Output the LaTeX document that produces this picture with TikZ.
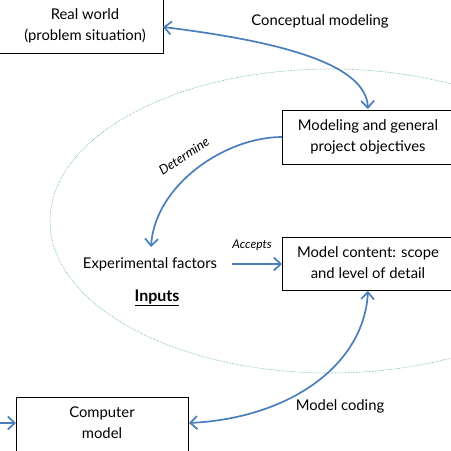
\documentclass[tikz,border=0pt]{standalone}
\usepackage{fontspec}
\setmainfont{Lato}
\usetikzlibrary{arrows.meta}
\definecolor{arrowblue}{RGB}{74,126,187}
\definecolor{ellgreen}{RGB}{80,175,140}
\tikzset{
  box/.style={draw=black, line width=0.8pt, fill=white, align=center, inner sep=0pt},
  lbl/.style={align=center, font=\fontsize{14.8}{21}\selectfont},
  small/.style={font=\fontsize{12}{14}\selectfont\itshape},
  conn/.style={draw=arrowblue, line width=1.7pt, >={Straight Barb[length=7pt,width=13pt,line width=1.7pt]}},
}
\begin{document}
\begin{tikzpicture}[x=1pt,y=-1pt]
\useasboundingbox (0,0) rectangle (451,451);
% ellipse
\draw[ellgreen, line width=0.6pt, densely dotted] (330,221) ellipse [x radius=280, y radius=152];
% boxes
\node[box, minimum width=190pt, minimum height=70pt] (rw) at (68,18) {};
\node[lbl] (rwt) at (85,26) {Real world\\(problem situation)};
\node[box, minimum width=200pt, minimum height=54pt] (mo) at (382,137) {};
\node[lbl] (mot) at (368,137) {Modeling and general\\project objectives};
\node[box, minimum width=200pt, minimum height=53pt] (mc) at (382,263.5) {};
\node[lbl] (mct) at (368,263) {Model content: scope\\and level of detail};
\node[box, minimum width=172pt, minimum height=80pt] (cm) at (102,437) {};
\node[lbl] (cmt) at (102,423) {Computer\\model};
% free labels
\node[lbl] (ef) at (150,264) {Experimental factors};
\node[lbl, font=\fontsize{16}{18}\selectfont\bfseries] (inp) at (157,298) {\underline{Inputs}};
\node[lbl] (cml) at (320,21) {Conceptual modeling};
\node[lbl] (mcl) at (340,406) {Model coding};
\node[small, font=\fontsize{13}{15}\selectfont\itshape, rotate=33] (det) at (184,156) {Determine};
\node[small] (acc) at (252,245) {Accepts};
% connector anchors
\coordinate (rwE) at (163,27);
\coordinate (moN) at (368,109);
\coordinate (moW) at (282,137);
\coordinate (efT) at (151,247);
\coordinate (efE) at (232,264);
\coordinate (mcW) at (282,264);
\coordinate (mcS) at (368,291);
\coordinate (cmE) at (189,423);
\coordinate (lft) at (0,423);
\coordinate (cmW) at (16,423);
% connectors
\draw[conn, <->] (rwE) .. controls (285,42) and (366,65) .. (moN);
\draw[conn, ->] (moW) .. controls (225,137) and (155,185) .. (efT);
\draw[conn, ->] (efE) -- (mcW);
\draw[conn, <->] (mcS) .. controls (364,365) and (290,418) .. (cmE);
\draw[conn, ->] (lft) -- (cmW);
\end{tikzpicture}
\end{document}
